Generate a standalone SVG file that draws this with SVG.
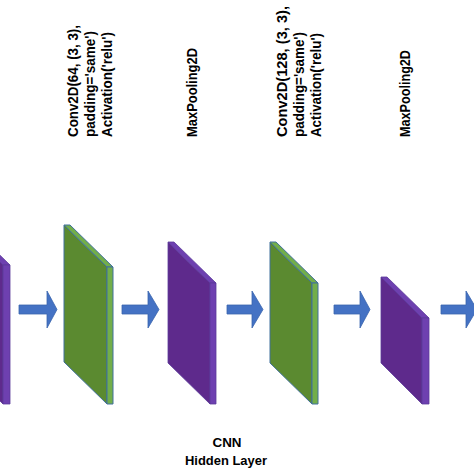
<svg xmlns="http://www.w3.org/2000/svg" width="474" height="474" viewBox="0 0 474 474">
<style>
.g-front{fill:#5b8a30;stroke:#41719c;stroke-width:1}
.g-side{fill:#72ae4a;stroke:#41719c;stroke-width:1}
.p-front{fill:#5e2a8c;stroke:#5a3a9a;stroke-width:0.8}
.p-side{fill:#6e40b0;stroke:#5a3a9a;stroke-width:0.8}
.arrow{fill:#4472c4;stroke:#3a64ad;stroke-width:0.8}
.lbl{font-family:"Liberation Sans",Arial,sans-serif;font-weight:bold;font-size:15px;fill:#000}
.cap{font-family:"Liberation Sans",Arial,sans-serif;font-weight:bold;font-size:13px;fill:#000;text-anchor:middle}
</style>
<rect width="474" height="474" fill="#ffffff"/>
<g id="slab0">
<polygon class="p-front" points="-39,223 3,265 3,404 -39,362"/>
<polygon class="p-side" points="-39,223 -33,223 10,265 3,265"/>
<polygon class="p-side" points="3,265 10,265 10,404 3,404"/>
</g>
<g id="slab1">
<polygon class="g-front" points="64,225 107,267 107,404 64,362"/>
<polygon class="g-side" points="64,225 70,225 113,267 107,267"/>
<polygon class="g-side" points="107,267 113,267 113,404 107,404"/>
</g>
<g id="slab2">
<polygon class="p-front" points="168,242 210,283 210,404 168,363"/>
<polygon class="p-side" points="168,242 174,242 216,283 210,283"/>
<polygon class="p-side" points="210,283 216,283 216,404 210,404"/>
</g>
<g id="slab3">
<polygon class="g-front" points="270,242 312,283 312,404 270,363"/>
<polygon class="g-side" points="270,242 276,242 318,283 312,283"/>
<polygon class="g-side" points="312,283 318,283 318,404 312,404"/>
</g>
<g id="slab4">
<polygon class="p-front" points="381,277 422,318 422,404 381,363"/>
<polygon class="p-side" points="381,277 387,277 429,318 422,318"/>
<polygon class="p-side" points="422,318 429,318 429,404 422,404"/>
</g>
<g id="connectors">
<polygon class="arrow" points="19,305 47,305 47,291 57,309.5 47,328 47,314 19,314"/>
<polygon class="arrow" points="122,305 148,305 148,291 159,309.5 148,328 148,314 122,314"/>
<polygon class="arrow" points="227,305 252,305 252,291 263,309.5 252,328 252,314 227,314"/>
<polygon class="arrow" points="334,305 360,305 360,291 370,309.5 360,328 360,314 334,314"/>
<polygon class="arrow" points="441,305 466,305 466,291 477,309.5 466,328 466,314 441,314"/>
</g>
<g id="label1">
<text class="lbl" transform="translate(78,137) rotate(-90)"><tspan x="0" y="0" textLength="112" lengthAdjust="spacingAndGlyphs">Conv2D(64, (3, 3),</tspan><tspan x="0" y="17" textLength="106" lengthAdjust="spacingAndGlyphs">padding='same')</tspan><tspan x="0" y="34" textLength="105" lengthAdjust="spacingAndGlyphs">Activation('relu')</tspan></text>
</g>
<g id="label2">
<text class="lbl" transform="translate(197,137) rotate(-90)" textLength="89" lengthAdjust="spacingAndGlyphs">MaxPooling2D</text>
</g>
<g id="label3">
<text class="lbl" transform="translate(287,137) rotate(-90)"><tspan x="0" y="0" textLength="131" lengthAdjust="spacingAndGlyphs">Conv2D(128, (3, 3),</tspan><tspan x="0" y="17" textLength="105" lengthAdjust="spacingAndGlyphs">padding='same')</tspan><tspan x="0" y="34" textLength="104" lengthAdjust="spacingAndGlyphs">Activation('relu')</tspan></text>
</g>
<g id="label4">
<text class="lbl" transform="translate(410,137) rotate(-90)" textLength="87" lengthAdjust="spacingAndGlyphs">MaxPooling2D</text>
</g>
<g id="caption">
<text class="cap" x="227" y="447" textLength="29" lengthAdjust="spacingAndGlyphs">CNN</text>
<text class="cap" x="226" y="465" textLength="82" lengthAdjust="spacingAndGlyphs">Hidden Layer</text>
</g>
</svg>
